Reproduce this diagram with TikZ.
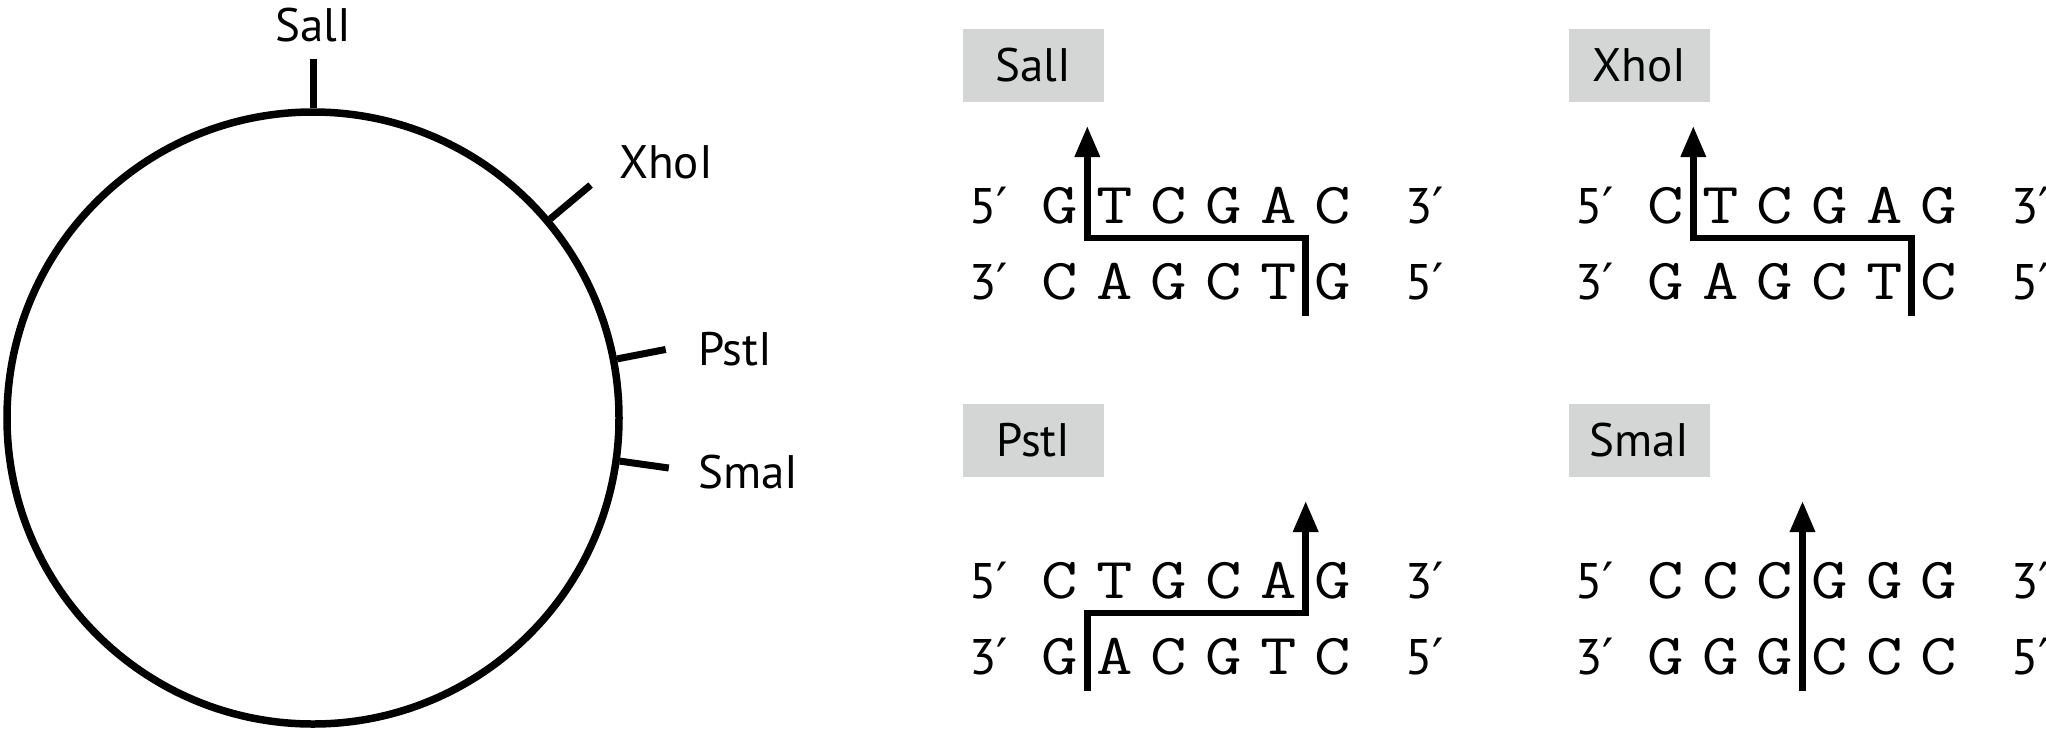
\documentclass[tikz,border=0pt]{standalone}
\usepackage{graphicx}
\usepackage{fontspec}
\setmainfont{PT Sans}
\newfontfamily\primefont{DejaVu Sans}
\usetikzlibrary{arrows.meta,calc}
\definecolor{boxgray}{RGB}{212,214,214}
\newcommand\myprime{{\primefont\char"2032}}
\newcommand\widenuc[1]{\scalebox{1.22}[1]{#1}}
\tikzset{
  lbl/.style={font=\fontsize{47}{50}\selectfont, inner sep=0pt},
  enz/.style={fill=boxgray, minimum width=141pt, minimum height=73pt, inner sep=0pt, font=\fontsize{47}{50}\selectfont},
  nuc/.style={font=\ttfamily\fontsize{58}{60}\selectfont, inner sep=0pt, anchor=base},
  endlbl/.style={font=\fontsize{50}{54}\selectfont, inner sep=0pt, anchor=base west},
  cutline/.style={line width=6.5pt, -{Triangle[length=31pt,width=24pt]}},
  tick/.style={line width=7pt},
  ring/.style={circle, draw, line width=7.5pt, minimum size=612pt, inner sep=0pt}
}
\newcommand\dnapanel[8]{%
 \begin{scope}[shift={(#2,#3)}]
  \node[enz] (#1box) at (1033.5,65.5) {#4};
  \node[endlbl] (#1l5) at (969,223) {5\myprime};
  \node[endlbl] (#1l3) at (969,299) {3\myprime};
  \node[endlbl] (#1r3) at (1405,223) {3\myprime};
  \node[endlbl] (#1r5) at (1405,299) {5\myprime};
  \foreach \c [count=\i] in {#5} {\node[nuc] (#1t\i) at ({1060+54.6*(\i-1)},223) {\widenuc{\c}};}
  \foreach \c [count=\i] in {#6} {\node[nuc] (#1b\i) at ({1060+54.6*(\i-1)},299) {\widenuc{\c}};}
  \pgfmathsetmacro\xu{1060+54.6*(#7-0.5)}
  \pgfmathsetmacro\xl{1060+54.6*(#8-0.5)}
  \coordinate (#1tip) at (\xu,126);
  \coordinate (#1bendu) at (\xu,238);
  \coordinate (#1bendl) at (\xl,238);
  \coordinate (#1foot) at (\xl,316);
  \draw[cutline] (#1foot) -- (#1bendl) -- (#1bendu) -- (#1tip);
 \end{scope}}
\begin{document}
\begin{tikzpicture}[x=1pt,y=-1pt]
\useasboundingbox (0,0) rectangle (2046,732);
% plasmid
\node[ring] (plasmid) at (313,418) {};
\coordinate (salout) at ($(plasmid.center)!1.16!(plasmid.90)$);
\coordinate (xhoout) at ($(plasmid.center)!1.17!(plasmid.40)$);
\coordinate (pstout) at ($(plasmid.center)!1.16!(plasmid.11)$);
\coordinate (smaout) at ($(plasmid.center)!1.16!(plasmid.-8.5)$);
\draw[tick] (plasmid.90) -- (salout);
\draw[tick] (plasmid.40) -- (xhoout);
\draw[tick] (plasmid.11) -- (pstout);
\draw[tick] (plasmid.-8.5) -- (smaout);
\node[lbl, anchor=base] (sallbl) at (313,41) {SalI};
\node[lbl, anchor=base west] (xholbl) at (619,178) {XhoI};
\node[lbl, anchor=base west] (pstlbl) at (698,365) {PstI};
\node[lbl, anchor=base west] (smalbl) at (698,488) {SmaI};
% panels
\dnapanel{sal}{0}{0}{SalI}{G,T,C,G,A,C}{C,A,G,C,T,G}{1}{5}
\dnapanel{xho}{606}{0}{XhoI}{C,T,C,G,A,G}{G,A,G,C,T,C}{1}{5}
\dnapanel{pst}{0}{375}{PstI}{C,T,G,C,A,G}{G,A,C,G,T,C}{5}{1}
\dnapanel{sma}{606}{375}{SmaI}{C,C,C,G,G,G}{G,G,G,C,C,C}{3}{3}
\end{tikzpicture}
\end{document}
